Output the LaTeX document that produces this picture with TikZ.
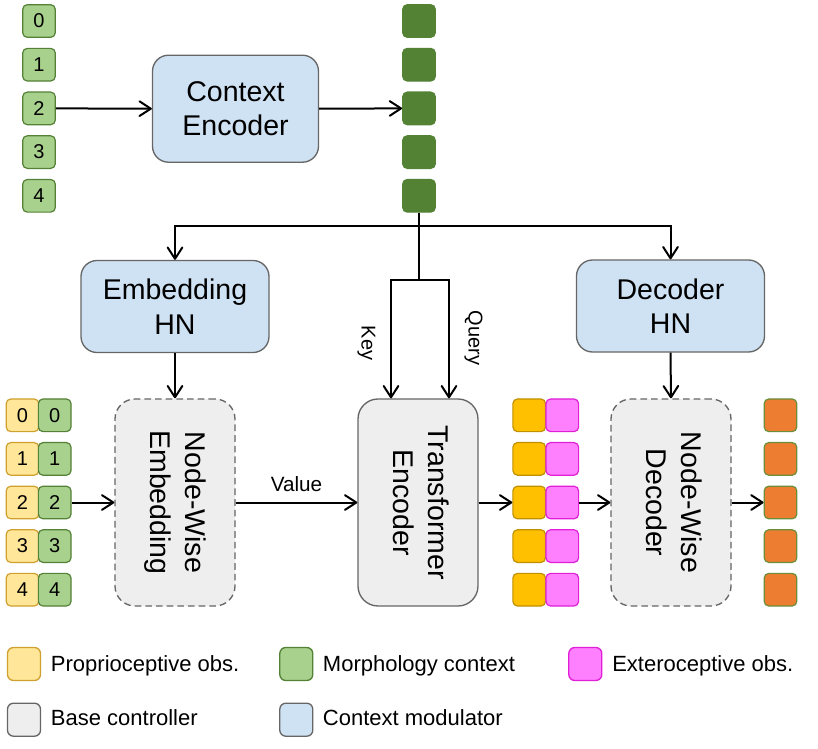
\documentclass[tikz,border=0pt]{standalone}
\usepackage{fontspec}
\usepackage{graphicx}
\setmainfont{Liberation Sans}
\usetikzlibrary{arrows.meta,calc}
\pgfdeclarearrow{
  name = VBarb,
  parameters = {\the\pgfarrowlength,\the\pgfarrowwidth},
  setup code = {
    \pgfarrowssettipend{0.5\pgflinewidth}
    \pgfarrowssetlineend{-0.5\pgflinewidth}
    \pgfarrowshullpoint{0.5\pgflinewidth}{0pt}
    \pgfarrowshullpoint{-\pgfarrowlength}{.5\pgfarrowwidth}
    \pgfarrowshullpoint{-\pgfarrowlength}{-.5\pgfarrowwidth}
    \pgfarrowssavethe\pgfarrowlength
    \pgfarrowssavethe\pgfarrowwidth
  },
  drawing code = {
    \pgfsetdash{}{0pt}
    \pgfsetroundjoin
    \pgfsetroundcap
    \pgfpathmoveto{\pgfqpoint{-\pgfarrowlength}{.5\pgfarrowwidth}}
    \pgfpathlineto{\pgfpointorigin}
    \pgfpathlineto{\pgfqpoint{-\pgfarrowlength}{-.5\pgfarrowwidth}}
    \pgfusepathqstroke
  },
  defaults = {length=8pt, width=12pt}
}
\definecolor{mcfill}{HTML}{A9D18E}
\definecolor{mcdraw}{HTML}{538135}
\definecolor{dgreen}{HTML}{548235}
\definecolor{propfill}{HTML}{FFE699}
\definecolor{propdraw}{HTML}{CFA02E}
\definecolor{ofill}{HTML}{FFC000}
\definecolor{odraw}{HTML}{BF9000}
\definecolor{pkfill}{HTML}{FF80FF}
\definecolor{pkdraw}{HTML}{E020D8}
\definecolor{orfill}{HTML}{ED7D31}
\definecolor{ordraw}{HTML}{6B8E3A}
\definecolor{modfill}{HTML}{CFE2F3}
\definecolor{ctrlfill}{HTML}{EEEEEE}
\definecolor{boxdraw}{HTML}{666666}
\begin{document}
\begin{tikzpicture}[x=0.75pt,y=-0.75pt,
  sq/.style={draw, line width=0.9pt, rounded corners=3.5pt, minimum width=24.5pt, minimum height=24.5pt, inner sep=0pt, font=\fontsize{15}{18}\selectfont},
  mc/.style={sq, fill=mcfill, draw=mcdraw},
  dg/.style={sq, fill=dgreen, draw=dgreen},
  prop/.style={sq, fill=propfill, draw=propdraw},
  ob/.style={sq, fill=ofill, draw=odraw},
  pk/.style={sq, fill=pkfill, draw=pkdraw},
  ornode/.style={sq, fill=orfill, draw=ordraw},
  big/.style={draw=boxdraw, line width=1pt, align=center, inner sep=0pt, font=\fontsize{21.4}{26}\selectfont},
  modbox/.style={big, fill=modfill, rounded corners=12pt},
  ctrl/.style={big, fill=ctrlfill, rounded corners=15pt, minimum width=90pt, minimum height=155.25pt},
  arr/.style={line width=1.5pt, -{VBarb[length=8.5pt,width=11pt]}},
  conn/.style={line width=1.5pt},
  lbl/.style={font=\fontsize{15}{18}\selectfont, inner sep=0pt},
  legbox/.style={draw, line width=1pt, rounded corners=4.5pt, minimum width=24.75pt, minimum height=24.75pt, inner sep=0pt},
  legtext/.style={font=\fontsize{16.5}{20}\selectfont, inner sep=0pt, anchor=base west}
]
\useasboundingbox (0,0) rectangle (818,749);

\foreach \i in {0,...,4} {
  \pgfmathsetmacro{\yy}{21+43.7*\i}
  \node[mc] (m\i) at (39,\yy) {\i};
  \node[dg] (d\i) at (419,\yy) {};
  \pgfmathsetmacro{\yb}{415.3+43.6*\i}
  \node[prop] (p\i) at (22.5,\yb) {\i};
  \node[mc] (g\i) at (54.7,\yb) {\i};
  \node[ob] (yo\i) at (529.2,\yb) {};
  \node[pk] (pk\i) at (562.3,\yb) {};
  \node[ornode] (or\i) at (780.5,\yb) {};
}

\node[modbox, minimum width=124.5pt, minimum height=80.25pt] (ce) at (235.5,108.7) {Context\\Encoder};
\node[modbox, minimum width=141pt, minimum height=69pt] (ehn) at (175,306.5) {Embedding\\HN};
\node[modbox, minimum width=141pt, minimum height=69pt] (dhn) at (670.5,306) {Decoder\\HN};

\node[ctrl, dashed, dash pattern=on 5pt off 3pt] (nwe) at (175,502.5) {\rotatebox{-90}{\begin{tabular}{@{}c@{}}Node-Wise\\Embedding\end{tabular}}};
\node[ctrl] (te) at (418,502.5) {\rotatebox{-90}{\begin{tabular}{@{}c@{}}Transformer\\Encoder\end{tabular}}};
\node[ctrl, dashed, dash pattern=on 5pt off 3pt] (nwd) at (671,502.5) {\rotatebox{-90}{\begin{tabular}{@{}c@{}}Node-Wise\\Decoder\end{tabular}}};

\draw[arr] (m2.east) -- (ce.west);
\draw[arr] (ce.east) -- (d2.west);

\coordinate (j) at (419,226);
\coordinate (k) at (419,280);
\draw[conn] (d4.south) -- (j);
\draw[arr] (j) -| (ehn.north);
\draw[arr] (j) -| (dhn.north);
\draw[conn] (j) -- (k);
\draw[arr] (k) -| ($(te.north)+(-27,0)$);
\draw[arr] (k) -| ($(te.north)+(31,0)$);

\node[lbl, rotate=-90] (keylab) at (366.5,343) {Key};
\node[lbl, rotate=-90] (querylab) at (473.5,338) {Query};

\draw[arr] (ehn.south) -- (nwe.north);
\draw[arr] (dhn.south) -- (nwd.north);
\draw[arr] (g2.east) -- (nwe.west);
\draw[arr] (nwe.east) -- node[above=7pt, font=\fontsize{15.5}{18}\selectfont, inner sep=0pt] (vlab) {Value} (te.west);
\draw[arr] (te.east) -- (yo2.west);
\draw[arr] (pk2.east) -- (nwd.west);
\draw[arr] (nwd.east) -- (or2.west);

\node[legbox, fill=propfill, draw=propdraw] (l1) at (24,664) {};
\node[legtext] (t1) at (50.7,671.7) {Proprioceptive obs.};
\node[legbox, fill=mcfill, draw=mcdraw] (l2) at (296.3,664) {};
\node[legtext] (t2) at (322.7,671.7) {Morphology context};
\node[legbox, fill=pkfill, draw=pkdraw] (l3) at (585.3,664) {};
\node[legtext] (t3) at (612,671.7) {Exteroceptive obs.};
\node[legbox, fill=ctrlfill, draw=boxdraw] (l4) at (24,719.7) {};
\node[legtext] (t4) at (50.7,725.7) {Base controller};
\node[legbox, fill=modfill, draw=boxdraw] (l5) at (296.3,719.7) {};
\node[legtext] (t5) at (322.7,725.7) {Context modulator};
\end{tikzpicture}
\end{document}
